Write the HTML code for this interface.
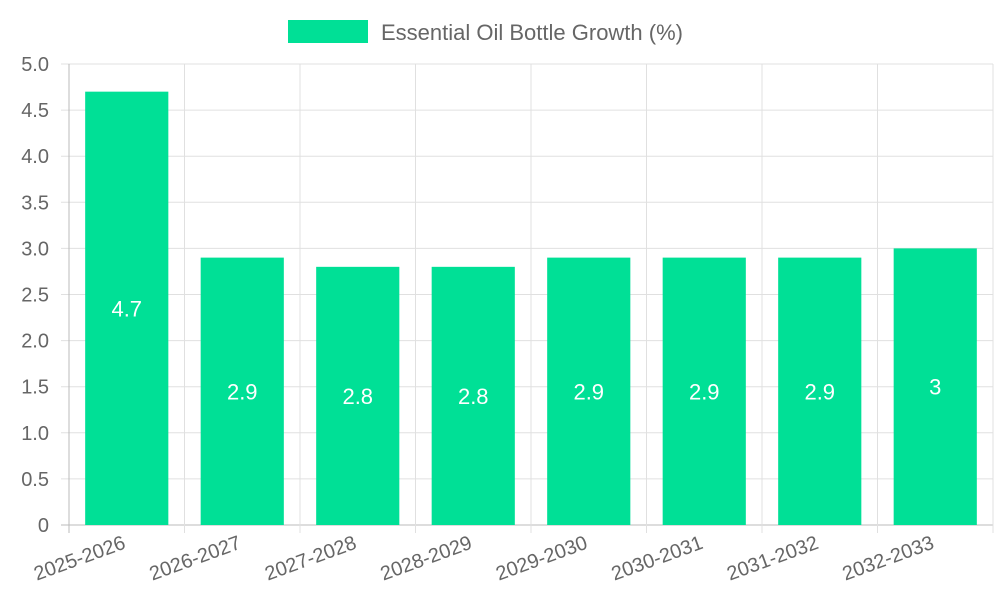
<!DOCTYPE html>
<html><head><meta charset="utf-8"><style>
body{margin:0;background:#fff;}
svg{display:block;font-family:"Liberation Sans",Arial,sans-serif;}
</style></head><body>
<svg id="chart" width="1000" height="600">
<g id="legend">
<rect x="288" y="20" width="80" height="23" fill="#00e096"></rect>
<text x="381" y="40" font-size="22" fill="#666">Essential Oil Bottle Growth (%)</text>
</g>
<g id="grid"></g>
<g id="bars"></g>
<g id="axes"></g>
</svg>
<script>
const categories=["2025-2026","2026-2027","2027-2028","2028-2029","2029-2030","2030-2031","2031-2032","2032-2033"];
const values=[4.7,2.9,2.8,2.8,2.9,2.9,2.9,3];
const valueLabels=["4.7","2.9","2.8","2.8","2.9","2.9","2.9","3"];
const yTicks=[0,0.5,1,1.5,2,2.5,3,3.5,4,4.5,5];
const yTickLabels=["0","0.5","1.0","1.5","2.0","2.5","3.0","3.5","4.0","4.5","5.0"];
const NS="http://www.w3.org/2000/svg";
const L=69,R=993,T=64,B=525,yMax=5;
const bw=(R-L)/categories.length;
const y=v=>B-(v/yMax)*(B-T);
const x=i=>L+i*bw;
function mk(tag,attrs,parent){const e=document.createElementNS(NS,tag);for(const k in attrs)e.setAttribute(k,attrs[k]);parent.appendChild(e);return e;}
const grid=document.getElementById('grid'),bars=document.getElementById('bars'),axes=document.getElementById('axes');
yTicks.forEach((t,i)=>{
 const l=mk('line',{x1:L-8,x2:R,y1:y(t),y2:y(t),stroke:i===0?'#bbb':'#e0e0e0','stroke-width':1},grid);
 
 
 const tx=mk('text',{x:L-20,y:y(t)+7,'font-size':20,fill:'#666','text-anchor':'end'},axes);
 tx.textContent=yTickLabels[i];
 
 
});
for(let i=0;i<=categories.length;i++){
 const l=mk('line',{x1:x(i),x2:x(i),y1:T,y2:B+8,stroke:i===0?'#bbb':'#e0e0e0','stroke-width':1},grid);
 
 
}
categories.forEach((c,i)=>{
 const cx=x(i)+bw/2,w=bw*0.72;
 const r=mk('rect',{x:cx-w/2,y:y(values[i]),width:w,height:B-y(values[i]),fill:'#00e096'},bars);
 
 
 const vt=mk('text',{x:cx,y:(y(values[i])+B)/2+8,'font-size':22,fill:'#fff','text-anchor':'middle'},bars);
 vt.textContent=valueLabels[i];
 
 
 const xt=mk('text',{x:cx,y:548,'font-size':20,fill:'#666','text-anchor':'end',transform:`rotate(-20 ${cx} 548)`},axes);
 xt.textContent=c;
 
 
});
</script>
</body></html>
